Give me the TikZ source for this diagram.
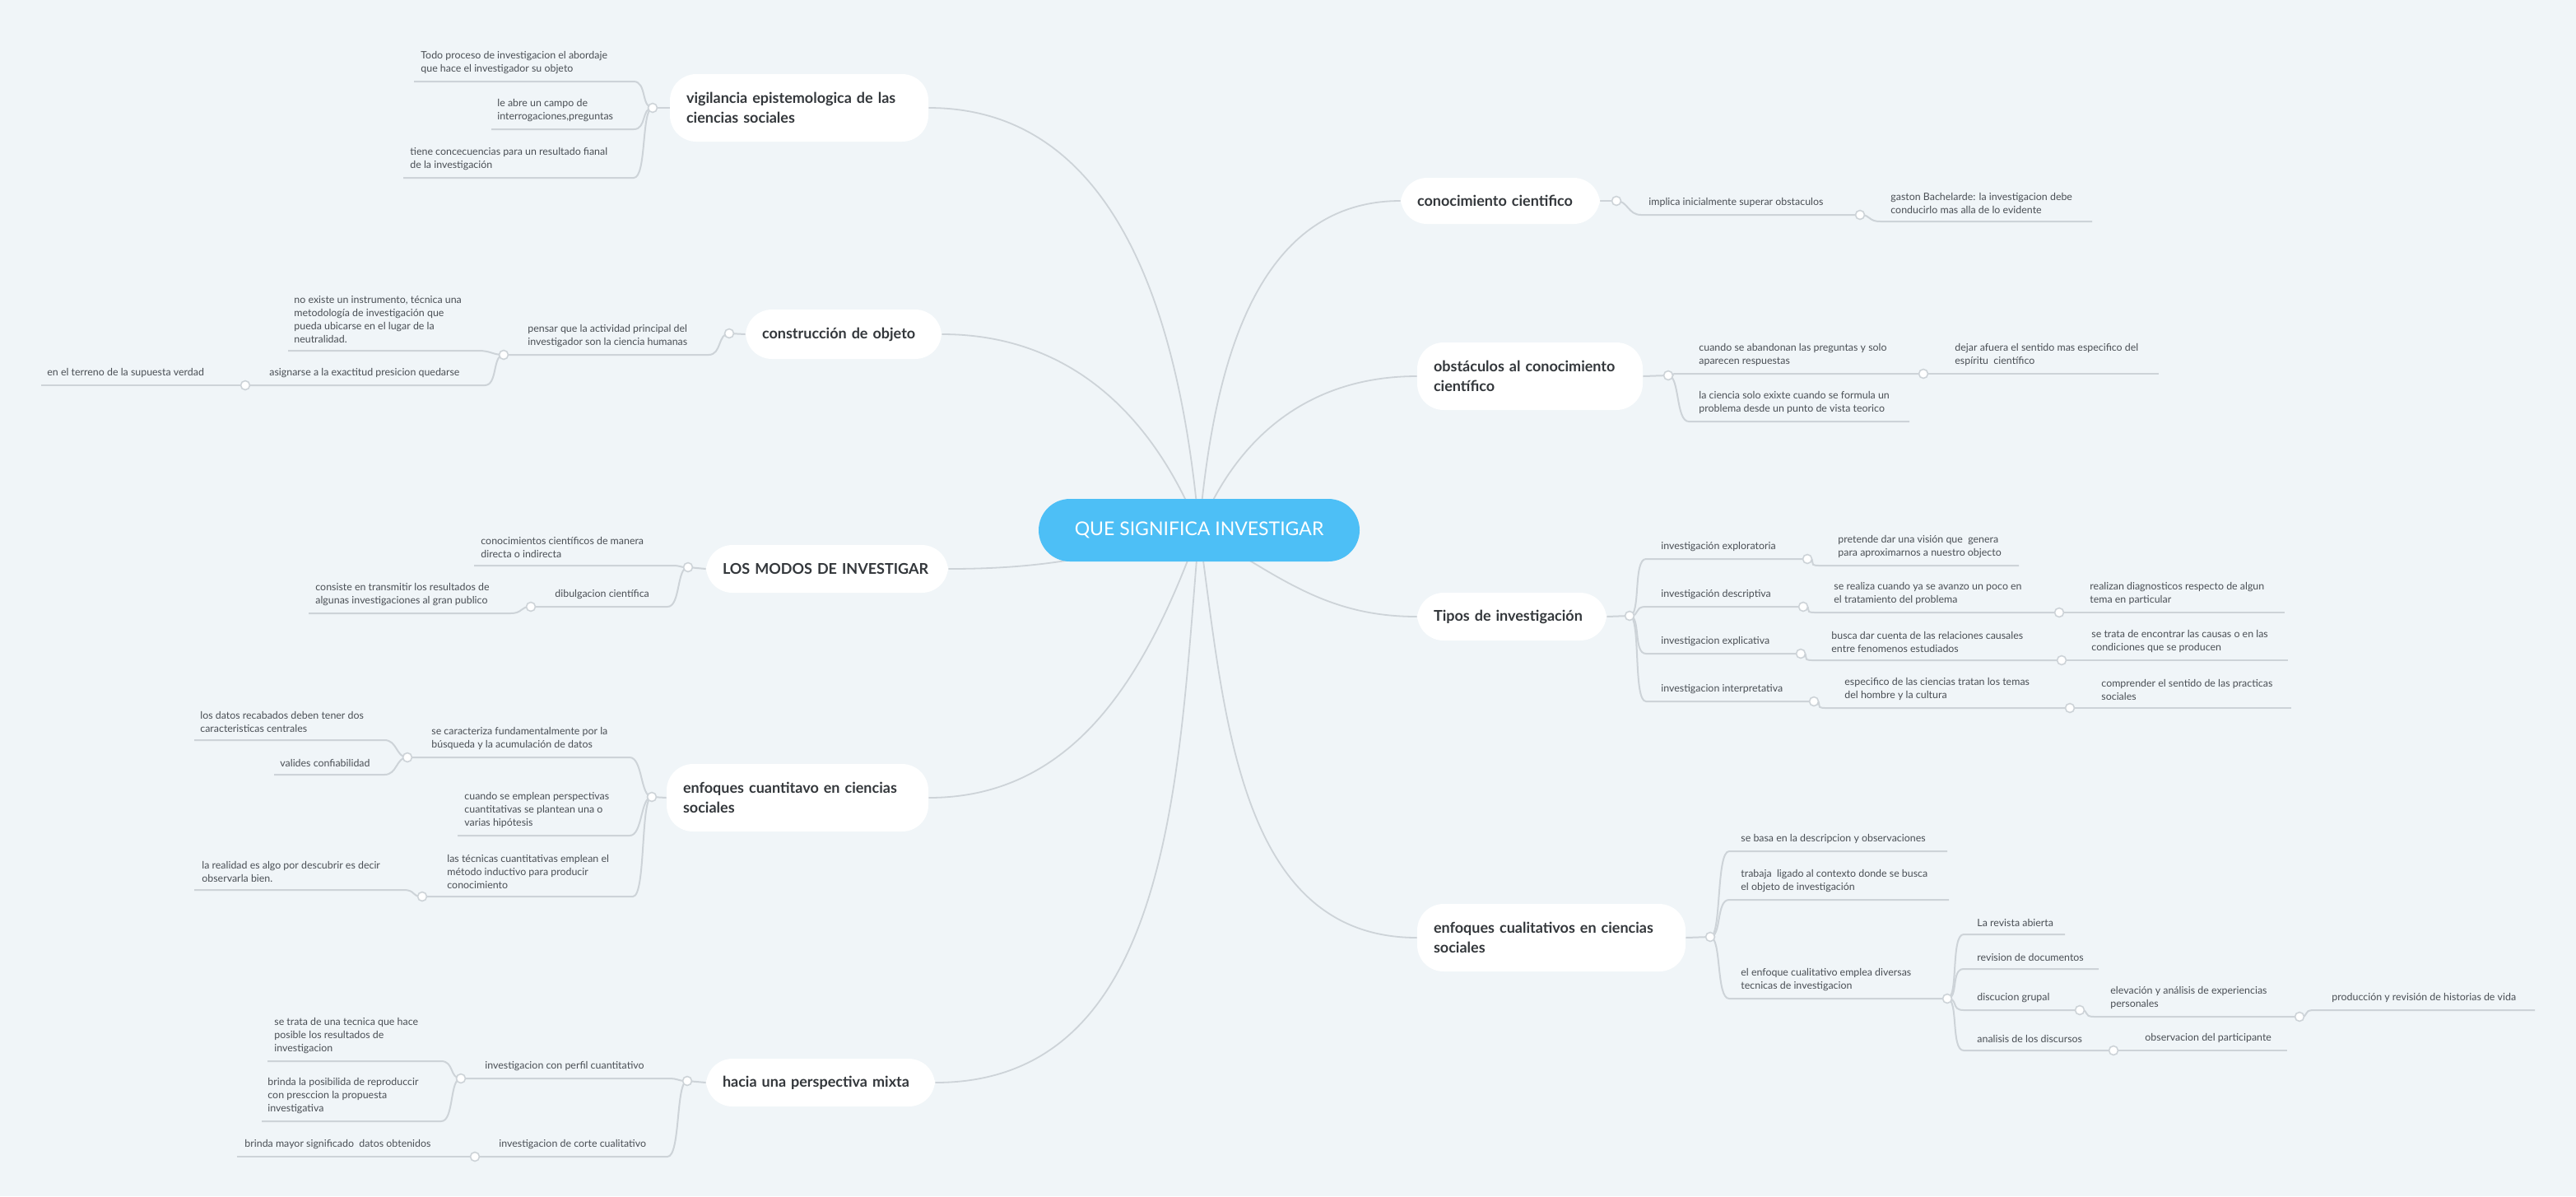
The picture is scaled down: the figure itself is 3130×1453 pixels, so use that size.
\documentclass[tikz,border=0pt]{standalone}
\usepackage{fontspec}
\setmainfont{Lato}
\pgfdeclarelayer{bg}\pgfdeclarelayer{lines}\pgfsetlayers{bg,lines,main}
\definecolor{bgc}{HTML}{F0F5F8}
\definecolor{lnc}{HTML}{CDD3D8}
\definecolor{txc}{HTML}{4A4F55}
\definecolor{ttc}{HTML}{33373B}
\definecolor{cenc}{HTML}{4DBFF6}
\tikzset{
 leaf/.style={inner sep=0pt,align=left,anchor=south west,text=txc,font=\fontsize{6.2}{8}\selectfont},
 br/.style={draw=lnc,line width=1pt},
 mainln/.style={draw=lnc,line width=0.9pt},
 dot/.style={circle,draw=lnc,fill=white,line width=0.8pt,minimum size=5.5pt,inner sep=0pt},
 topic/.style={rounded corners=16pt,fill=white,inner sep=0pt,text=ttc,font=\bfseries\fontsize{9}{12}\selectfont,align=left},
}
\newcommand\leafL[7]{%
 \begin{pgfonlayer}{lines}\draw[br] (#2) .. controls +(-14,0) and +(16,0) .. (#5,#3) -- (#4,#3);\end{pgfonlayer}
 \node[leaf] (#1) at (#6,#3-9) {#7};}
\newcommand\leafR[7]{%
 \begin{pgfonlayer}{lines}\draw[br] (#2) .. controls +(14,0) and +(-16,0) .. (#4,#3) -- (#5,#3);\end{pgfonlayer}
 \node[leaf] (#1) at (#6,#3-9) {#7};}
\newcommand\topicnode[6]{% name, x, y, w, h, text
 \node[topic,minimum width=#4pt,minimum height=#5pt,text width=#4pt-20pt] (#1) at (#2,#3) {#6};}
\begin{document}
\begin{tikzpicture}[x=0.5pt,y=-0.5pt]
\begin{pgfonlayer}{bg}
\fill[bgc] (0,0) rectangle (3130,1453);
\end{pgfonlayer}
\useasboundingbox (0,0) rectangle (3130,1453);
% center
\node[rounded corners=19pt,fill=cenc,text=white,minimum width=195pt,minimum height=38pt,font=\fontsize{11.5}{14}\selectfont] (cen) at (1457,644) {QUE SIGNIFICA INVESTIGAR};
% topics
\topicnode{vig}{971}{131}{157}{41}{vigilancia epistemologica de las\\ciencias sociales}
\topicnode{cons}{1025}{406}{119}{30}{construcción de objeto}
\topicnode{modos}{1005}{691}{147}{29}{LOS MODOS DE INVESTIGAR}
\topicnode{cuan}{969}{969}{159}{41}{enfoques cuantitavo en ciencias\\sociales}
\topicnode{mix}{997}{1315}{139}{29}{hacia una perspectiva mixta}
\topicnode{cono}{1823}{244}{121}{28}{conocimiento cientifico}
\topicnode{obs}{1859}{457}{137}{41}{obstáculos al conocimiento\\científico}
\topicnode{tip}{1837}{749}{115}{29}{Tipos de investigación}
\topicnode{cual}{1885}{1139}{163}{41}{enfoques cualitativos en ciencias\\sociales}
% main connectors
\begin{pgfonlayer}{lines}
\draw[mainln] (cen.center) to[out=95,in=0] (vig.east);
\draw[mainln] (cen.center) to[out=112,in=0] (cons.east);
\draw[mainln] (cen.center) to[out=195,in=0] (modos.east);
\draw[mainln] (cen.center) to[out=250,in=0] (cuan.east);
\draw[mainln] (cen.center) to[out=265,in=0] (mix.east);
\draw[mainln] (cen.center) to[out=85,in=180] (cono.west);
\draw[mainln] (cen.center) to[out=68,in=180] (obs.west);
\draw[mainln] (cen.center) to[out=-30,in=180] (tip.west);
\draw[mainln] (cen.center) to[out=-82,in=180] (cual.west);
\end{pgfonlayer}
% circle coordinates
\coordinate (V) at (793,131);
\coordinate (C) at (886,405); \coordinate (C1) at (612,431); \coordinate (C12) at (298,468);
\coordinate (M) at (836,689); \coordinate (M2) at (645,737);
\coordinate (Q) at (792,968); \coordinate (Q1) at (495,920); \coordinate (Q3) at (513,1089);
\coordinate (X) at (835,1313); \coordinate (X1) at (560,1310); \coordinate (X2) at (577,1405);
\coordinate (K) at (1964,244); \coordinate (K1) at (2260,261);
\coordinate (O) at (2027,456); \coordinate (O1) at (2337,454);
\coordinate (T) at (1980,748); \coordinate (T1) at (2196,679); \coordinate (T2) at (2191,737); \coordinate (T21) at (2502,744);
\coordinate (T3) at (2188,794); \coordinate (T31) at (2505,802); \coordinate (T4) at (2204,852); \coordinate (T41) at (2515,860);
\coordinate (U) at (2078,1138); \coordinate (U3) at (2366,1213); \coordinate (U33) at (2527,1227); \coordinate (U331) at (2794,1235); \coordinate (U34) at (2568,1276);
\begin{pgfonlayer}{lines}
\draw[br] (vig.west) -- (V); \draw[br] (cons.west) -- (C); \draw[br] (modos.west) -- (M);
\draw[br] (cuan.west) -- (Q); \draw[br] (mix.west) -- (X);
\draw[br] (cono.east) -- (K); \draw[br] (obs.east) -- (O); \draw[br] (tip.east) -- (T); \draw[br] (cual.east) -- (U);
\end{pgfonlayer}
% left leaves
\leafL{v1}{V}{99}{503}{770}{511}{Todo proceso de investigacion el abordaje\\que hace el investigador su objeto}
\leafL{v2}{V}{157}{597}{770}{604}{le abre un campo de\\interrogaciones,preguntas}
\leafL{v3}{V}{216}{490}{770}{498}{tiene concecuencias para un resultado fianal\\de la investigación}
\leafL{c1}{C}{431}{612}{861}{641}{pensar que la actividad principal del\\investigador son la ciencia humanas}
\leafL{c11}{C1}{426}{350}{581}{357}{no existe un instrumento, técnica una\\metodología de investigación que\\pueda ubicarse en el lugar de la\\neutralidad.}
\leafL{c12}{C1}{468}{298}{589}{327}{asignarse a la exactitud presicion quedarse}
\leafL{c121}{C12}{468}{50}{298}{57}{en el terreno de la supuesta verdad}
\leafL{m1}{M}{687}{576}{815}{584}{conocimientos científicos de manera\\directa o indirecta}
\leafL{m2}{M}{737}{645}{811}{674}{dibulgacion científica}
\leafL{m21}{M2}{745}{375}{620}{383}{consiste en transmitir los resultados de\\algunas investigaciones al gran publico}
\leafL{q1}{Q}{920}{495}{765}{524}{se caracteriza fundamentalmente por la\\búsqueda y la acumulación de datos}
\leafL{q11}{Q1}{899}{236}{467}{243}{los datos recabados deben tener dos\\caracteristicas centrales}
\leafL{q12}{Q1}{941}{333}{467}{340}{valides confiabilidad}
\leafL{q2}{Q}{1015}{556}{765}{564}{cuando se emplean perspectivas\\cuantitativas se plantean una o\\varias hipótesis}
\leafL{q3}{Q}{1089}{513}{769}{543}{las técnicas cuantitativas emplean el\\método inductivo para producir\\conocimiento}
\leafL{q31}{Q3}{1081}{236}{490}{245}{la realidad es algo por descubrir es decir\\observarla bien.}
\leafL{x1}{X}{1310}{560}{811}{589}{investigacion con perfil cuantitativo}
\leafL{x11}{X1}{1289}{325}{536}{333}{se trata de una tecnica que hace\\posible los resultados de\\investigacion}
\leafL{x12}{X1}{1362}{318}{536}{325}{brinda la posibilida de reproduccir\\con presccion la propuesta\\investigativa}
\leafL{x2}{X}{1405}{577}{811}{606}{investigacion de corte cualitativo}
\leafL{x21}{X2}{1405}{288}{577}{297}{brinda mayor significado\ \ datos obtenidos}
% right leaves
\leafR{k1}{K}{261}{1994}{2260}{2003}{implica inicialmente superar obstaculos}
\leafR{k11}{K1}{269}{2285}{2542}{2297}{gaston Bachelarde: la investigacion debe\\conducirlo mas alla de lo evidente}
\leafR{o1}{O}{454}{2040}{2337}{2064}{cuando se abandonan las preguntas y solo\\aparecen respuestas}
\leafR{o11}{O1}{454}{2337}{2623}{2375}{dejar afuera el sentido mas especifico del\\espíritu\ \ científico}
\leafR{o2}{O}{512}{2052}{2320}{2064}{la ciencia solo exixte cuando se formula un\\problema desde un punto de vista teorico}
\leafR{t1}{T}{679}{2000}{2196}{2018}{investigación exploratoria}
\leafR{t11}{T1}{687}{2210}{2453}{2233}{pretende dar una visión que\ \ genera\\para aproximarnos a nuestro objecto}
\leafR{t2}{T}{737}{2000}{2191}{2018}{investigación descriptiva}
\leafR{t21}{T2}{744}{2205}{2502}{2228}{se realiza cuando ya se avanzo un poco en\\el tratamiento del problema}
\leafR{t211}{T21}{744}{2502}{2776}{2539}{realizan diagnosticos respecto de algun\\tema en particular}
\leafR{t3}{T}{794}{2000}{2188}{2018}{investigacion explicativa}
\leafR{t31}{T3}{802}{2202}{2505}{2225}{busca dar cuenta de las relaciones causales\\entre fenomenos estudiados}
\leafR{t311}{T31}{802}{2505}{2780}{2541}{se trata de encontrar las causas o en las\\condiciones que se producen}
\leafR{t4}{T}{852}{2000}{2204}{2018}{investigacion interpretativa}
\leafR{t41}{T4}{860}{2218}{2515}{2241}{especifico de las ciencias tratan los temas\\del hombre y la cultura}
\leafR{t411}{T41}{860}{2515}{2784}{2553}{comprender el sentido de las practicas\\sociales}
\leafR{u1}{U}{1034}{2101}{2366}{2115}{se basa en la descripcion y observaciones}
\leafR{u2}{U}{1093}{2101}{2368}{2115}{trabaja\ \ ligado al contexto donde se busca\\el objeto de investigación}
\leafR{u3}{U}{1213}{2101}{2366}{2115}{el enfoque cualitativo emplea diversas\\tecnicas de investigacion}
\leafR{u31}{U3}{1135}{2386}{2509}{2402}{La revista abierta}
\leafR{u32}{U3}{1177}{2386}{2550}{2402}{revision de documentos}
\leafR{u33}{U3}{1227}{2386}{2527}{2402}{discucion grupal}
\leafR{u331}{U33}{1235}{2545}{2794}{2564}{elevación y análisis de experiencias\\personales}
\leafR{u3311}{U331}{1227}{2812}{3080}{2833}{producción y revisión de historias de vida}
\leafR{u34}{U3}{1276}{2386}{2568}{2402}{analisis de los discursos}
\leafR{u341}{U34}{1276}{2568}{2779}{2606}{observacion del participante}
% circles
\foreach \p in {V,C,C1,C12,M,M2,Q,Q1,Q3,X,X1,X2,K,K1,O,O1,T,T1,T2,T21,T3,T31,T4,T41,U,U3,U33,U331,U34}
 \node[dot] (d\p) at (\p) {};
\end{tikzpicture}
\end{document}
